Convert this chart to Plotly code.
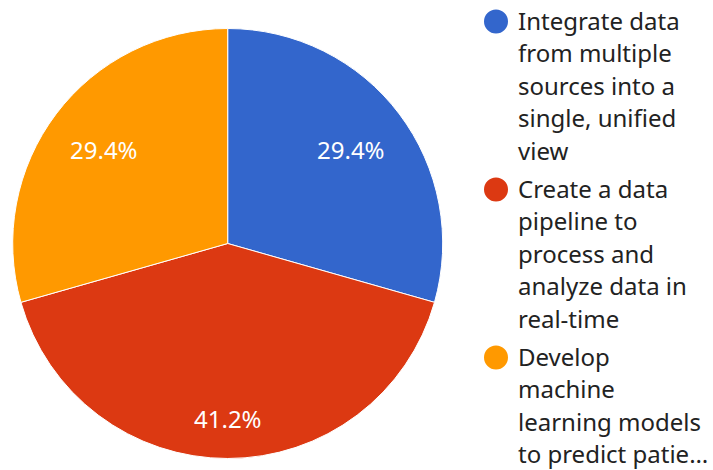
import math
import plotly.graph_objects as go

W, H = 713, 470

labels = [
    "Integrate data from multiple sources into a single, unified view",
    "Create a data pipeline to process and analyze data in real-time",
    "Develop machine learning models to predict patie…",
]
values = [5, 7, 5]
colors = ["#3366CC", "#DC3912", "#FF9900"]
legend_lines = [
    ["Integrate data", "from multiple", "sources into a", "single, unified", "view"],
    ["Create a data", "pipeline to", "process and", "analyze data in", "real-time"],
    ["Develop", "machine", "learning models", "to predict patie…"],
]

FONT = "Noto Sans"

# pie geometry (pixels)
CX, CY, R = 227.7, 243.5, 215.0


def px_x(x):
    return x / W


def px_y(y):
    return 1 - y / H


fig = go.Figure()
fig.add_trace(go.Pie(
    labels=labels,
    values=values,
    marker=dict(colors=colors, line=dict(color="white", width=1)),
    sort=False,
    direction="clockwise",
    rotation=0,
    textinfo="none",
    showlegend=False,
    hoverinfo="label+percent",
    domain=dict(x=[px_x(CX - R), px_x(CX + R)], y=[px_y(CY + R), px_y(CY - R)]),
))

annotations = []
shapes = []

# percentage labels placed along each slice's middle angle
total = sum(values)
cum = 0.0
PCT_SIZE = 24
for v in values:
    frac = v / total
    theta = 2 * math.pi * (cum + frac / 2)
    cum += frac
    ux, uy = math.sin(theta), -math.cos(theta)
    txt = f"{frac * 100:.1f}%"
    hw = 0.56 * PCT_SIZE * len(txt) / 2
    hh = 8.5
    target = 0.87 * R
    # find distance so that the farthest text corner lies at target radius
    k = abs(ux) * hw + abs(uy) * hh
    c2 = hw * hw + hh * hh
    d = (-2 * k + math.sqrt(4 * k * k + 4 * (target * target - c2))) / 2
    tx, ty = CX + d * ux, CY + d * uy
    annotations.append(dict(
        text=txt, xref="paper", yref="paper",
        x=px_x(tx), y=px_y(ty - 0.7),
        xanchor="center", yanchor="middle", showarrow=False,
        font=dict(family=FONT, size=PCT_SIZE, color="white"),
    ))

# custom legend (circle markers + wrapped text lines)
first_baseline = 29.5
item_step = 168.0
line_pitch = 32.5
text_x = 515.5
LEG_SIZE = 24
for i, lines in enumerate(legend_lines):
    b0 = first_baseline + item_step * i
    cy = b0 - 8
    r = 12
    shapes.append(dict(
        type="circle", xref="paper", yref="paper",
        x0=px_x(496 - r), x1=px_x(496 + r),
        y0=px_y(cy + r), y1=px_y(cy - r),
        fillcolor=colors[i], line=dict(width=0),
    ))
    for j, ln in enumerate(lines):
        b = b0 + line_pitch * j
        annotations.append(dict(
            text=ln, xref="paper", yref="paper",
            x=px_x(text_x), y=px_y(b - 9.3),
            xanchor="left", yanchor="middle",
            showarrow=False,
            font=dict(family=FONT, size=LEG_SIZE, color="#222222"),
        ))

fig.update_layout(
    width=W, height=H,
    margin=dict(l=0, r=0, t=0, b=0),
    paper_bgcolor="white",
    plot_bgcolor="white",
    shapes=shapes,
    annotations=annotations,
    font=dict(family=FONT),
)

fig.write_html("out.html")
